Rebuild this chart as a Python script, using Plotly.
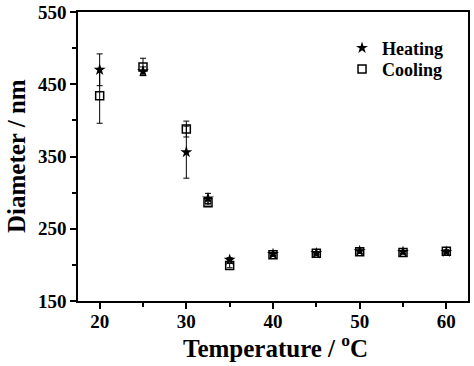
import plotly.graph_objects as go

temperature = [20, 25, 30, 32.5, 35, 40, 45, 50, 55, 60]
heating = [470, 468, 356, 292, 207, 215, 216, 219, 218, 218]
heating_err = [22, 6, 36, 7, 3, 2, 2, 3, 2, 2]
cooling = [434, 474, 388, 286, 199, 214, 216, 218, 217, 219]
cooling_err = [38, 12, 11, 3, 3, 2, 2, 2, 2, 2]

x_title = "Temperature / <sup>o</sup>C"
y_title = "Diameter / nm"

font_family = "Liberation Serif"

fig = go.Figure()
fig.add_trace(go.Scatter(
    x=temperature, y=heating, mode="markers", name="Heating", legend="legend",
    marker=dict(symbol="star", size=9, color="black", line=dict(width=0)),
    error_y=dict(type="data", array=heating_err, color="black", thickness=1, width=3),
))
fig.add_trace(go.Scatter(
    x=temperature, y=cooling, mode="markers", name="Cooling", legend="legend2",
    marker=dict(symbol="square-open", size=8, color="black", line=dict(width=1.5, color="black")),
    error_y=dict(type="data", array=cooling_err, color="black", thickness=1, width=3),
))

axis_common = dict(
    showline=True, linecolor="black", linewidth=1.5, mirror=True,
    showgrid=False, zeroline=False, automargin=False,
    ticks="outside", ticklen=6, tickwidth=1.5, tickcolor="black",
    tickfont=dict(family=font_family, size=19, color="black", weight="bold"),
)

legend_common = dict(
    xanchor="left", yanchor="middle",
    font=dict(family=font_family, size=18, color="black", weight="bold"),
    bgcolor="rgba(0,0,0,0)",
)

fig.update_layout(
    width=474, height=366,
    margin=dict(l=78, r=6, t=12, b=65, autoexpand=False),
    paper_bgcolor="white", plot_bgcolor="white",
    font=dict(family=font_family, color="black"),
    showlegend=True,
    legend=dict(x=0.677, y=0.875, **legend_common),
    legend2=dict(x=0.677, y=0.802, **legend_common),
    xaxis=dict(
        range=[17.5, 62.5], tickvals=[20, 30, 40, 50, 60], ticklabelstandoff=-4,
        minor=dict(tickvals=[25, 35, 45, 55], ticks="outside", ticklen=4, tickwidth=1.5, tickcolor="black"),
        **axis_common,
    ),
    yaxis=dict(
        range=[150, 550], tickvals=[150, 250, 350, 450, 550],
        minor=dict(tickvals=[200, 300, 400, 500], ticks="outside", ticklen=4, tickwidth=1.5, tickcolor="black"),
        **axis_common,
    ),
    annotations=[
        dict(text=x_title, xref="paper", yref="paper", x=(275 - 78) / 390, y=-(346 - 301) / 289,
             xanchor="center", yanchor="middle", showarrow=False,
             font=dict(family=font_family, size=25, color="black", weight="bold")),
        dict(text=y_title, xref="paper", yref="paper", x=-(78 - 16) / 390, y=(301 - 156) / 289,
             xanchor="center", yanchor="middle", showarrow=False, textangle=-90,
             font=dict(family=font_family, size=25, color="black", weight="bold")),
    ],
)

# remove the default 8px page margin so the figure sits at the window's corner
fig.write_html("out.html", config={"displayModeBar": False},
               post_script="document.body.style.margin='0px';")
